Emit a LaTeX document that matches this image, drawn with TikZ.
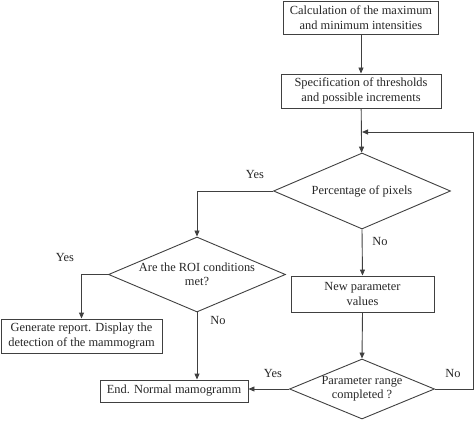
\documentclass[tikz,border=0pt]{standalone}
\usepackage{fontspec}
\setmainfont{Liberation Serif}
\usetikzlibrary{shapes.geometric,arrows.meta}

\begin{document}
\begin{tikzpicture}[x=1pt,y=-1pt,line width=0.9pt,draw=black!75,
                    >={Triangle[length=6pt,width=5pt]},
                    font=\fontsize{12.4}{14.5}\selectfont]
  \tikzstyle{every node}=[text=black!85]
  \tikzstyle{process}=[draw=black!75,rectangle,inner sep=0pt,align=center]
  \tikzstyle{decision}=[draw=black!75,diamond,inner sep=0pt,align=center]
  \tikzstyle{answer}=[inner sep=0pt]

  \useasboundingbox (0,0) rectangle (474,422);

	\node[process,minimum width=155pt,minimum height=33pt]	(calc)	at (361,17.5)	{Calculation of the maximum\\and minimum intensities};
	\node[process,minimum width=160pt,minimum height=34pt]	(spec)	at (361,91)	{Specification of thresholds\\and possible increments};
	\node[decision,minimum width=177pt,minimum height=76pt,aspect=2.33]	(pct)	at (362,191)	{Percentage of pixels};
	\node[decision,minimum width=177pt,minimum height=75pt,aspect=2.4]	(roi)	at (197,274.5)	{Are the ROI conditions\\met?};
	\node[process,minimum width=161pt,minimum height=34pt]	(report)	at (81.5,336)	{Generate report. Display the\\detection of the mammogram};
	\node[process,minimum width=143pt,minimum height=36pt]	(newpar)	at (362.5,294)	{New parameter\\values};
	\node[decision,minimum width=145pt,minimum height=60pt,aspect=2.42]	(range)	at (362,389)	{Parameter range\\completed ?};
	\node[process,minimum width=148pt,minimum height=22pt]	(end)	at (174,391)	{End. Normal mamogramm};

	\coordinate (join) at (362,132);
	\coordinate (loop) at (473,132);

	\node[answer] (yes1) at (255,175) {Yes};
	\node[answer] (no1)  at (380,242) {No};
	\node[answer] (yes2) at (65,258)  {Yes};
	\node[answer] (no2)  at (218,321) {No};
	\node[answer] (yes3) at (273,373) {Yes};
	\node[answer] (no3)  at (453,373) {No};

	\draw[->] (calc) -- (spec);
	\draw[->] (spec) -- (pct);
	\draw[->] (pct.west) -| (roi.north);
	\draw[->] (pct.south) -- (newpar.north);
	\draw[->] (roi.west) -| (report.north);
	\draw[->] (roi.south) -- (roi.south |- end.north);
	\draw[->] (newpar.south) -- (range.north);
	\draw[->] (range.west) -- (range.west -| end.east);
	\draw[->] (range.east) -| (loop) -- (join);

\end{tikzpicture}
\end{document}
